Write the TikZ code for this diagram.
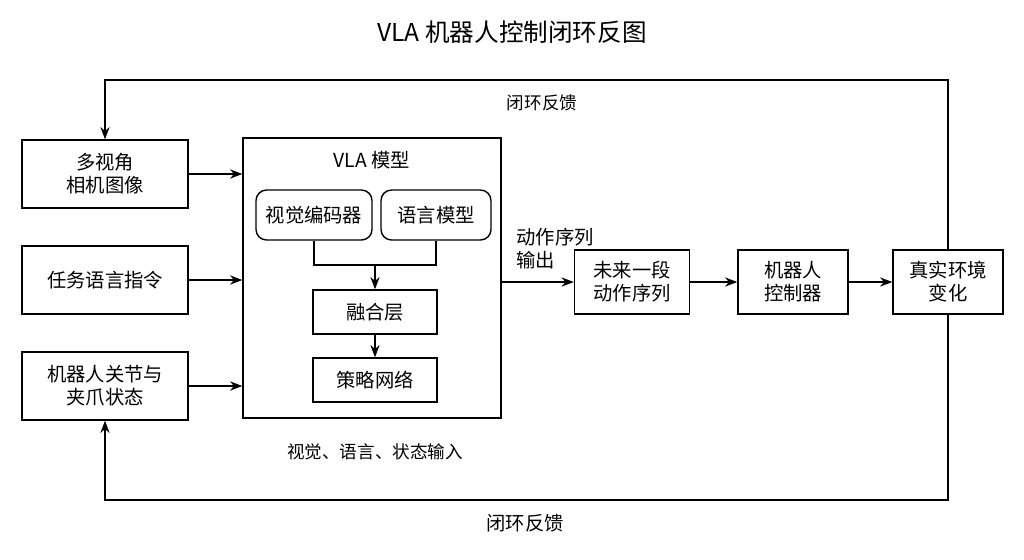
\documentclass[tikz,border=0pt]{standalone}
\usepackage{fontspec}
\setmainfont{Noto Sans CJK SC}
\usetikzlibrary{arrows.meta}
\usetikzlibrary{calc}
\begin{document}
\begin{tikzpicture}[x=0.02cm, y=-0.02cm, thick, >={Stealth[length=7pt]},
    box/.style = {draw, minimum width=3.32cm, minimum height=1.36cm, align=center, font=\fontsize{11}{13}\selectfont},
    sub/.style = {draw, rounded corners=6pt, minimum height=1.0cm, font=\fontsize{11}{13}\selectfont},
    layer/.style = {draw, minimum width=2.48cm, minimum height=0.88cm, font=\fontsize{11}{13}\selectfont},
    right box/.style = {draw, minimum width=2.2cm, minimum height=1.28cm, align=center, font=\fontsize{11}{13}\selectfont}]
    \useasboundingbox (0,0) rectangle (1024,559);
    \node (title) at (512,32) {\fontsize{14}{16}\selectfont VLA 机器人控制闭环反图};
    \node [box] (cam) at (105,174) {多视角\\相机图像};
    \node [box] (task) at (105,280) {任务语言指令};
    \node [box] (joint) at (105,386) {机器人关节与\\夹爪状态};
    \node [draw, minimum width=5.16cm, minimum height=5.6cm] (vla) at (372,278) {};
    \node [font=\fontsize{11}{13}\selectfont] (vlalabel) at (372,160) {VLA 模型};
    \node [sub, minimum width=2.32cm] (enc) at (314,215) {视觉编码器};
    \node [sub, minimum width=2.2cm] (lang) at (436,215) {语言模型};
    \node [layer] (fuse) at (375,312) {融合层};
    \node [layer] (policy) at (375,380) {策略网络};
    \node [right box, minimum width=2.3cm] (seq) at (632,282) {未来一段\\动作序列};
    \node [right box] (ctrl) at (793,282) {机器人\\控制器};
    \node [right box] (env) at (948,282) {真实环境\\变化};
    \node [font=\fontsize{11}{13}\selectfont, align=left, anchor=west] (out) at (510,249) {动作序列\\输出};
    \node [font=\fontsize{10}{12}\selectfont] (inlabel) at (375,452) {视觉、语言、状态输入};
    \node [font=\fontsize{10}{12}\selectfont] (fbtop) at (542,103) {闭环反馈};
    \node [font=\fontsize{11}{13}\selectfont] (fbbot) at (525,523) {闭环反馈};
    \coordinate (merge) at (375,265);

    \draw[->] (cam) -- (cam -| vla.west);
    \draw[->] (task) -- (task -| vla.west);
    \draw[->] (joint) -- (joint -| vla.west);
    \draw (enc.south) |- (merge) -| (lang.south);
    \draw[->] (merge) -- (fuse);
    \draw[->] (fuse) -- (policy);
    \draw[->] (seq -| vla.east) -- (seq);
    \draw[->] (seq) -- (ctrl);
    \draw[->] (ctrl) -- (env);
    \draw[->] (env.north) -- (env.north |- 0,80) -| (cam.north);
    \draw[->] (env.south) -- (env.south |- 0,500) -| (joint.south);
\end{tikzpicture}
\end{document}
